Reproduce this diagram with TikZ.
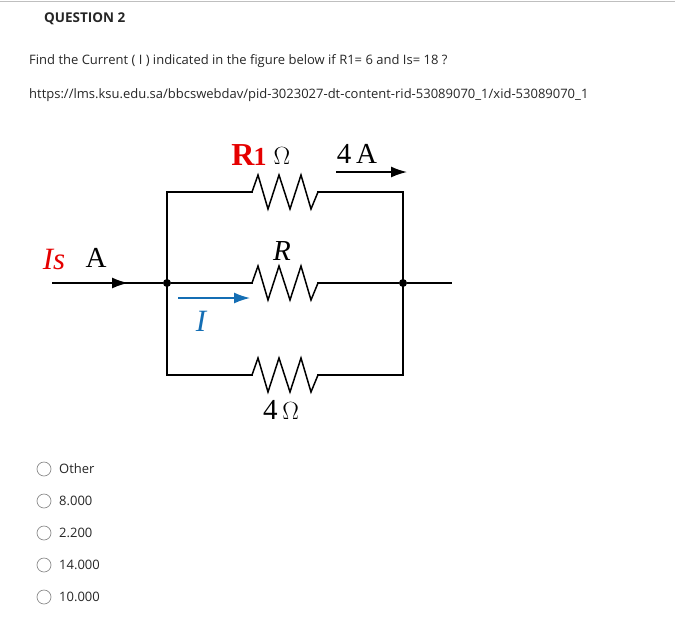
\documentclass[tikz,border=0pt]{standalone}
\usetikzlibrary{arrows.meta}
\usepackage{fontspec}
\setmainfont{Open Sans}
\newfontfamily\ser{Liberation Serif}
\begin{document}
\begin{tikzpicture}[x=1pt,y=-1pt,
  wire/.style={line width=1.5pt,black},
  dot/.style={circle,fill=black,inner sep=0pt,minimum size=8pt},
  lbl/.style={font=\ser\fontsize{29}{29}\selectfont,inner sep=0pt},
  txt/.style={font=\fontsize{13}{15}\selectfont,anchor=west,inner sep=0pt,text=black!85},
  opt/.style={circle,draw=black!45,line width=0.7pt,minimum size=14pt,inner sep=0pt},
  arr/.style={line width=1.5pt,-{Latex[length=16pt,width=11pt]}}]
\useasboundingbox (0,0) rectangle (675,622);
\draw[black!25,line width=1pt] (0,1) -- (675,1);
\node[txt,font=\bfseries\fontsize{13.5}{15}\selectfont] (q) at (44,19) {QUESTION 2};
\node[txt] (t1) at (29,61) {Find the Current ( I ) indicated in the figure below if R1= 6 and Is= 18 ?};
\node[txt] (t2) at (29,95) {https://lms.ksu.edu.sa/bbcswebdav/pid-3023027-dt-content-rid-53089070\_1/xid-53089070\_1};
% circuit
\coordinate (in) at (52,283);
\node[dot] (L) at (167,283) {};
\node[dot] (Rt) at (403,283) {};
\coordinate (out) at (452,283);
\coordinate (tl) at (167,192); \coordinate (tr) at (403,192);
\coordinate (bl) at (167,375); \coordinate (br) at (403,375);
\draw[wire] (in) -- (L) -- (Rt) -- (out);
\draw[wire] (bl) -- (tl) -- (tr) -- (br) -- cycle;
\foreach \y in {192,283,375}{
  \fill[white] (253,\y-3) rectangle (317,\y+3);
  \draw[wire,line join=miter] (252,\y) -- (258,\y-17) -- (268,\y+17) -- (279,\y-17) -- (290,\y+17) -- (301,\y-17) -- (311,\y+17) -- (318,\y);
}
\draw[arr] (in) -- (128,283);
\draw[arr] (336,172) -- (407,172);
\draw[arr,color={rgb,255:red,20;green,110;blue,180}] (178,298) -- (250,298);
\node[lbl,text=red!90!black,font=\ser\bfseries\fontsize{32}{32}\selectfont] (r1) at (249,155) {R\kern-1pt{\fontsize{26}{26}\selectfont 1}};
\node[lbl] (om) at (282,156) {$\Omega$};
\node[lbl] (fa) at (357,154) {4\,A};
\node[lbl,font=\ser\itshape\fontsize{29}{29}\selectfont] (R) at (282,251) {R};
\node[lbl,text=red!90!black,font=\ser\itshape\fontsize{31}{31}\selectfont] (is) at (54,259) {Is};
\node[lbl] (a) at (96,258) {A};
\node[lbl,text={rgb,255:red,20;green,110;blue,180},font=\ser\itshape\fontsize{31}{31}\selectfont] (I) at (201,321) {I};
\node[lbl] (fo) at (281,410) {4\,$\Omega$};
% options
\foreach \y/\t in {469/Other,501/8.000,533/2.200,565/14.000,597/10.000}{
  \node[opt] (o\y) at (44,\y) {};
  \node[txt] (l\y) at (59,\y) {\t};
}
\end{tikzpicture}
\end{document}
